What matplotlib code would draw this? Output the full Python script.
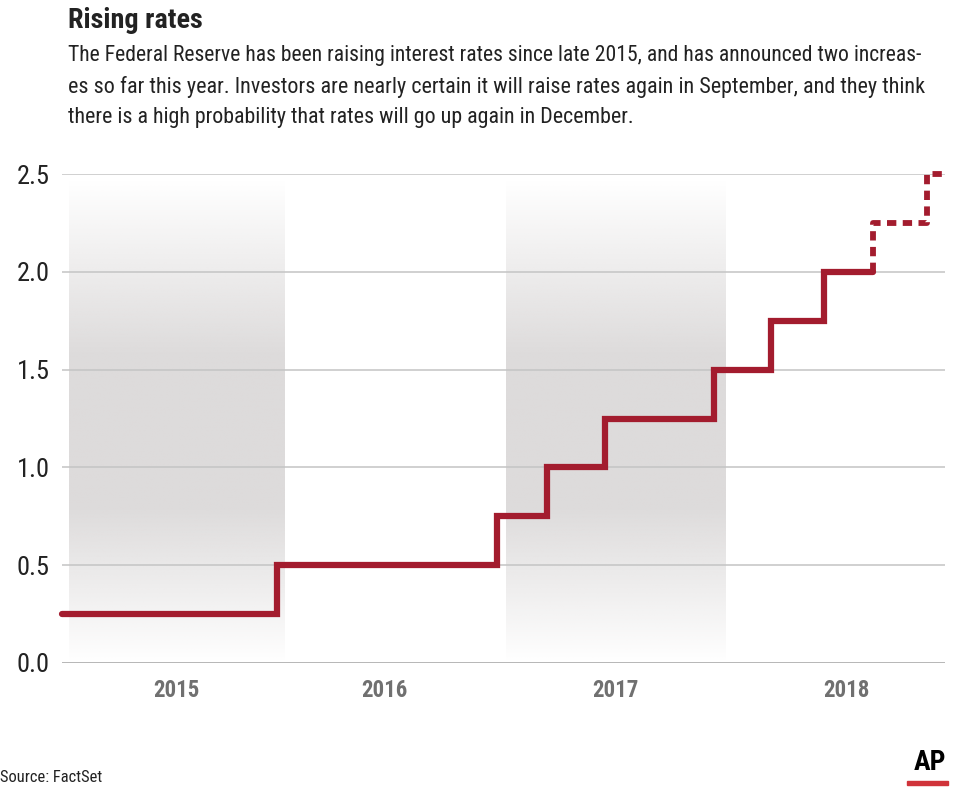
import numpy as np
import matplotlib.pyplot as plt

# data (x = fractional year)
solid_x = [2014.98, 2015.96, 2016.96, 2017.19, 2017.45, 2017.95, 2018.21, 2018.45, 2018.67]
solid_y = [0.25, 0.50, 0.75, 1.00, 1.25, 1.50, 1.75, 2.00, 2.00]
proj_x = [2018.67, 2018.67, 2018.92, 2019.0]
proj_y = [2.00, 2.25, 2.50, 2.50]
years = ['2015', '2016', '2017', '2018']
year_pos = [2015.5, 2016.45, 2017.5, 2018.55]
shaded = [(2015.01, 2015.99), (2017.0, 2018.0)]
yticks = [0.0, 0.5, 1.0, 1.5, 2.0, 2.5]

plt.rcParams['font.family'] = ['Roboto Condensed', 'DejaVu Sans']

red = '#A31C2E'
fig = plt.figure(figsize=(9.59, 7.91), dpi=100)
renderer = fig.canvas.get_renderer()


def fit(t, width_px):
    # shrink/grow a text so it spans the same width as in the reference
    w = t.get_window_extent(renderer).width
    t.set_fontsize(t.get_fontsize() * width_px / w)
    return t


ax = fig.add_axes([62 / 959, 128 / 791, (945 - 62) / 959, (663 - 174) / 791])
ax.set_xlim(2014.98, 2019.0)
ax.set_ylim(0, 2.5)

# gradient bands
ramp = np.linspace(0, 2.5, 300)
alpha = np.clip(np.minimum(ramp / 0.8, (2.47 - ramp) / 0.9), 0, 1)
alpha[ramp < 0.015] = 0
alpha[ramp > 2.47] = 0
for a, b in shaded:
    rgba = np.zeros((300, 1, 4))
    rgba[:, 0, :3] = np.array([221, 219, 219]) / 255
    rgba[:, 0, 3] = alpha
    ax.imshow(rgba, extent=(a, b, 0, 2.5), origin='lower', aspect='auto', zorder=0)

for t in yticks[1:]:
    ax.axhline(t, color='#c4c4c4', lw=1.1, zorder=1)
ax.axhline(0, color='#b0b0b0', lw=2, zorder=1)

ax.plot(solid_x, solid_y, drawstyle='steps-post', color=red, lw=4.5,
        solid_joinstyle='miter', solid_capstyle='round', clip_on=False, zorder=3)
ax.plot(proj_x, proj_y, drawstyle='steps-post', color=red, lw=4.2,
        dashes=(1.6, 1.1), clip_on=False, zorder=3)

for s in ax.spines.values():
    s.set_visible(False)
ax.set_xticks([])
ax.set_yticks(yticks)
ax.set_yticklabels(['%.1f' % t for t in yticks], fontsize=19, color='#222222')
ax.tick_params(axis='y', length=0, pad=9)

for lab, p in zip(years, year_pos):
    ax.text(p, -0.14, lab, ha='center', va='center', fontsize=16.5, fontweight='bold',
            color='#707070')

fit(fig.text(68 / 959, 1 - 20 / 791, 'Rising rates', fontsize=26, fontweight='bold',
             color='#222222', va='center'), 135)
lines = ['The Federal Reserve has been raising interest rates since late 2015, and has announced two increas-',
         'es so far this year. Investors are nearly certain it will raise rates again in September, and they think',
         'there is a high probability that rates will go up again in December.']
widths = [858, 857, 568]
for i, ln in enumerate(lines):
    fit(fig.text(68 / 959, 1 - (56 + 31 * i) / 791, ln, fontsize=18, color='#222222',
                 va='center'), widths[i])

fit(fig.text(0, 1 - 777 / 791, 'Source: FactSet', fontsize=14, color='#222222',
             va='center'), 103)
fig.text(930 / 959, 1 - 762 / 791, 'AP', fontsize=20, fontweight='bold', color='black',
         ha='center', va='center')
fig.patches.append(plt.Rectangle((907 / 959, 1 - 785 / 791), 41 / 959, 4 / 791,
                                 transform=fig.transFigure, color='#D0333A'))

fig.savefig('out.png', dpi=100, facecolor='white')
